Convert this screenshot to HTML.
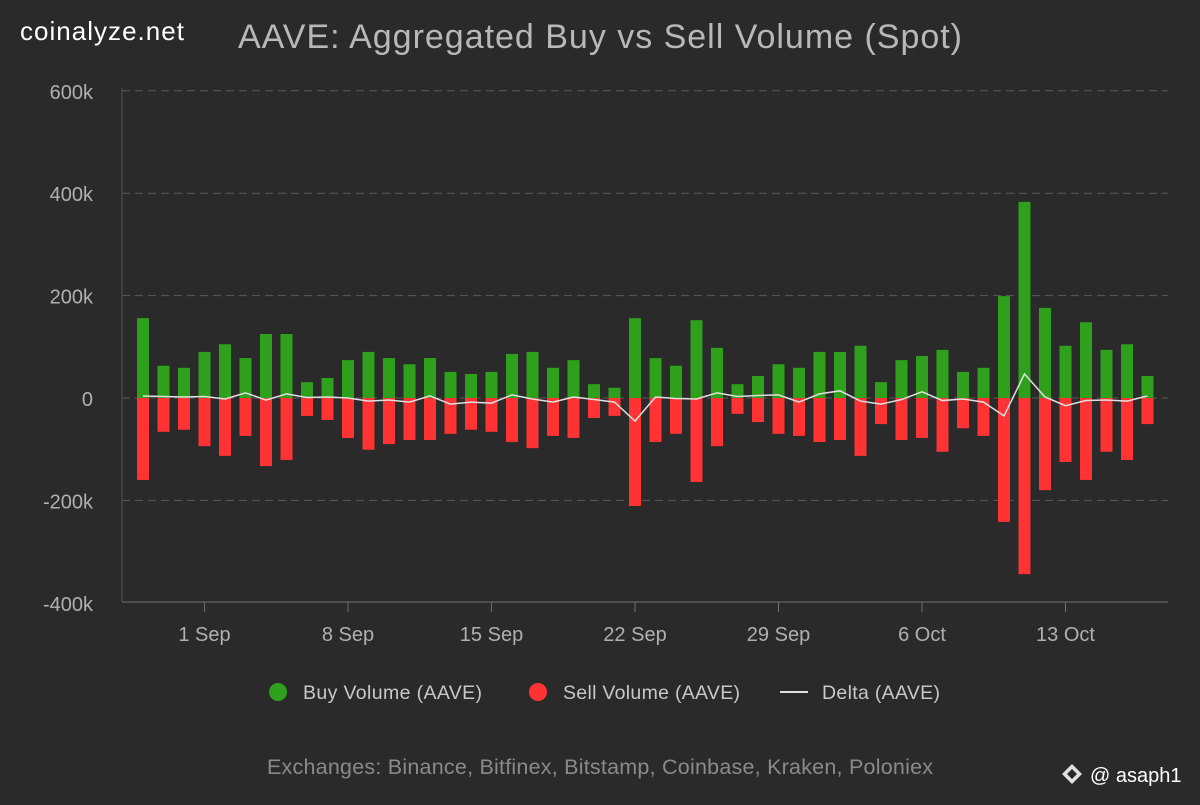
<!DOCTYPE html>
<html><head><meta charset="utf-8"><style>
body{margin:0;background:#2a2a2a;font-family:"Liberation Sans",sans-serif;}
svg text{font-family:"Liberation Sans",sans-serif;}
</style></head><body>
<svg id="c" width="1200" height="800">
<rect width="1200" height="800" fill="#2a2a2a"/>
<text x="20" y="40" font-size="26" fill="#ffffff" textLength="164">coinalyze.net</text>
<text x="600" y="48" font-size="34" fill="#b8b8b8" text-anchor="middle" textLength="724">AAVE: Aggregated Buy vs Sell Volume (Spot)</text>
<g id="grid"></g><g id="bars"></g><g id="line"></g><g id="axes"></g>
<g>
<circle cx="278" cy="692" r="9" fill="#2ea01c"/>
<text x="303" y="699" font-size="19.5" fill="#c8c8c8" textLength="179">Buy Volume (AAVE)</text>
<circle cx="538" cy="692" r="9" fill="#ff3333"/>
<text x="563" y="699" font-size="19.5" fill="#c8c8c8" textLength="177">Sell Volume (AAVE)</text>
<line x1="780" y1="692" x2="808" y2="692" stroke="#e0e0e0" stroke-width="2"/>
<text x="822" y="699" font-size="19.5" fill="#c8c8c8" textLength="118">Delta (AAVE)</text>
</g>
<text x="600" y="774" font-size="21.5" fill="#8a8a8a" text-anchor="middle" textLength="666">Exchanges: Binance, Bitfinex, Bitstamp, Coinbase, Kraken, Poloniex</text>
<g>
<path d="M1072 764 l10 10 l-10 10 l-10 -10z M1072 769 l5 5 l-5 5 l-5 -5z" fill="#e0e0e0" fill-rule="evenodd"/>
<text x="1090" y="782" font-size="20" fill="#ffffff">@ asaph1</text>
</g>
</svg>
<script>
const buy=[156,63,59,90,105,78,125,125,31,39,74,90,78,66,78,51,47,51,86,90,59,74,27,20,156,78,63,152,98,27,43,66,59,90,90,102,31,74,82,94,51,59,199,383,176,102,148,94,105,43];
const sell=[-160,-66,-62,-94,-113,-74,-133,-121,-35,-43,-78,-101,-90,-82,-82,-70,-62,-66,-86,-98,-74,-78,-39,-35,-211,-86,-70,-164,-94,-31,-47,-70,-74,-86,-82,-113,-51,-82,-78,-105,-59,-74,-242,-344,-180,-125,-160,-105,-121,-51];
const delta=[4,3,2,3,-2,10,-4,8,1,2,0,-6,-4,-8,4,-12,-8,-10,6,-2,-8,2,-3,-8,-45,2,-1,-2,10,3,5,6,-8,8,14,-6,-12,-3,12,-5,-2,-8,-35,47,2,-15,-5,-4,-6,4];
const dateLabels=["1 Sep","8 Sep","15 Sep","22 Sep","29 Sep","6 Oct","13 Oct"];
const dateLabelIdx=[3,10,17,24,31,38,45];
const yTicks=[600,400,200,0,-200,-400];
const yTickLabels=["600k","400k","200k","0","-200k","-400k"];
const NS="http://www.w3.org/2000/svg";
const x0=143,dx=20.5,yZero=398,kpx=0.512;
const X=i=>x0+i*dx, Y=v=>yZero-v*kpx;
function mk(tag,attrs,parent,txt){const e=document.createElementNS(NS,tag);for(const k in attrs)e.setAttribute(k,attrs[k]);if(txt!==undefined)e.textContent=txt;document.getElementById(parent).appendChild(e);return e;}
yTicks.forEach((t,i)=>{
 if(t!==-400){const g=mk('line',{x1:122,x2:1168,y1:Y(t),y2:Y(t),stroke:'#5a5a5a','stroke-dasharray':'8,5'},'grid');
 
 }
 const l=mk('text',{x:93,y:Y(t)+8,'font-size':20,fill:'#b0b0b0','text-anchor':'end'},'axes',yTickLabels[i]);
 
 
});
const ax=mk('line',{x1:122,x2:1168,y1:602,y2:602,stroke:'#707070'},'axes');


const ay=mk('line',{x1:122,x2:122,y1:88,y2:602,stroke:'#555'},'axes');


dateLabels.forEach((d,i)=>{
 const x=X(dateLabelIdx[i]);
 const tk=mk('line',{x1:x,x2:x,y1:602,y2:612,stroke:'#707070'},'axes');
 
 
 const t=mk('text',{x:x,y:641,'font-size':20,fill:'#b0b0b0','text-anchor':'middle'},'axes',d);
 
 
});
const w=12;
buy.forEach((v,i)=>{
 const b=mk('rect',{x:X(i)-w/2,y:Y(v),width:w,height:Y(0)-Y(v),fill:'#2ea01c'},'bars');
 
 
 const s=sell[i];
 const r=mk('rect',{x:X(i)-w/2,y:Y(0),width:w,height:Y(s)-Y(0),fill:'#ff3333'},'bars');
 
 
});
const pl=mk('polyline',{points:delta.map((v,i)=>X(i)+','+Y(v)).join(' '),fill:'none',stroke:'#e0e0e0','stroke-width':1.5},'line');


</script>
</body></html>
